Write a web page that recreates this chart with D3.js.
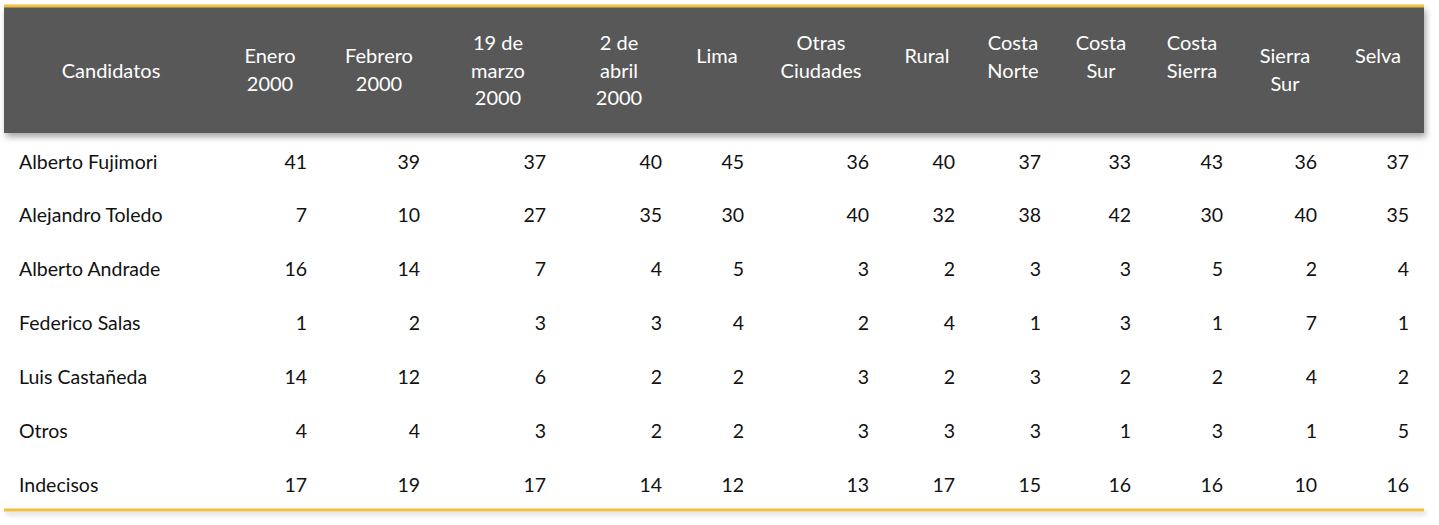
<!DOCTYPE html>
<html><head><meta charset="utf-8">
<script src="https://cdn.jsdelivr.net/npm/d3@7"></script>
<style>body{margin:0;background:#fff}text{font-family:Lato,"Open Sans",sans-serif}</style>
</head><body><svg id="tbl" width="1439" height="525"></svg>
<script>
const headers = [["Enero","2000"],["Febrero","2000"],["19 de","marzo","2000"],["2 de","abril","2000"],["Lima"],["Otras","Ciudades"],["Rural"],["Costa","Norte"],["Costa","Sur"],["Costa","Sierra"],["Sierra","Sur"],["Selva"]];
const candidates = ["Alberto Fujimori","Alejandro Toledo","Alberto Andrade","Federico Salas","Luis Castañeda","Otros","Indecisos"];
const fujimori = [41,39,37,40,45,36,40,37,33,43,36,37];
const toledo   = [7,10,27,35,30,40,32,38,42,30,40,35];
const andrade  = [16,14,7,4,5,3,2,3,3,5,2,4];
const salas    = [1,2,3,3,4,2,4,1,3,1,7,1];
const castaneda= [14,12,6,2,2,3,2,3,2,2,4,2];
const otros    = [4,4,3,2,2,3,3,3,1,3,1,5];
const indecisos= [17,19,17,14,12,13,17,15,16,16,10,16];
const rows = [fujimori,toledo,andrade,salas,castaneda,otros,indecisos];

// layout
const headCenter = [270,379,498,619,717,821,927,1013,1101,1192,1285,1378];
const numRight = [307,420,546,662,744,869,955,1041,1131,1223,1317,1409];
const headTop = [55,55,42,42,55,42,55,42,42,42,55,55];

const svg = d3.select('#tbl');
const defs = svg.append('defs');
const f = defs.append('filter').attr('id','sh').attr('x','-2%').attr('y','-10%').attr('width','104%').attr('height','130%');
f.append('feDropShadow').attr('dx',2).attr('dy',4).attr('stdDeviation',3).attr('flood-color','#000').attr('flood-opacity',0.35);
const f2 = defs.append('filter').attr('id','sh2').attr('filterUnits','userSpaceOnUse').attr('x',0).attr('y',500).attr('width',1439).attr('height',25);
f2.append('feDropShadow').attr('dx',2).attr('dy',3).attr('stdDeviation',2.5).attr('flood-color','#000').attr('flood-opacity',0.2);

svg.append('rect').attr('x',4).attr('y',6).attr('width',1420).attr('height',127).attr('fill','#585858').attr('filter','url(#sh)');
svg.append('rect').attr('x',4).attr('y',4.5).attr('width',1420).attr('height',3).attr('fill','#f0c040');

svg.append('text').attr('x',111).attr('y',70).attr('text-anchor','middle').attr('dominant-baseline','central')
  .attr('fill','#fff').attr('font-size',20).text('Candidatos');

headers.forEach((h,i) => {
  const t = svg.append('text').attr('text-anchor','middle').attr('fill','#fff').attr('font-size',20);
  h.forEach((ln,j) => t.append('tspan').attr('x',headCenter[i]).attr('y',headTop[i]+j*27.5).attr('dominant-baseline','central').text(ln));
});

const y = d3.scalePoint().domain(candidates).range([161,484]);
const g = svg.selectAll('g.row').data(candidates).join('g').attr('class','row')
  .attr('transform',d => `translate(0,${y(d)})`);
g.append('text').attr('x',19).attr('dominant-baseline','central').attr('font-size',19.5).attr('fill','#111').text(d => d);
g.each(function(d,r){
  d3.select(this).selectAll('text.v').data(rows[r]).join('text').attr('class','v')
    .attr('x',(v,i) => numRight[i]).attr('text-anchor','end').attr('dominant-baseline','central')
    .attr('font-size',19.5).attr('fill','#111').text(v => v);
});

svg.append('rect').attr('x',4).attr('y',508.5).attr('width',1420).attr('height',3).attr('fill','#f0c040').attr('filter','url(#sh2)');
</script></body></html>
